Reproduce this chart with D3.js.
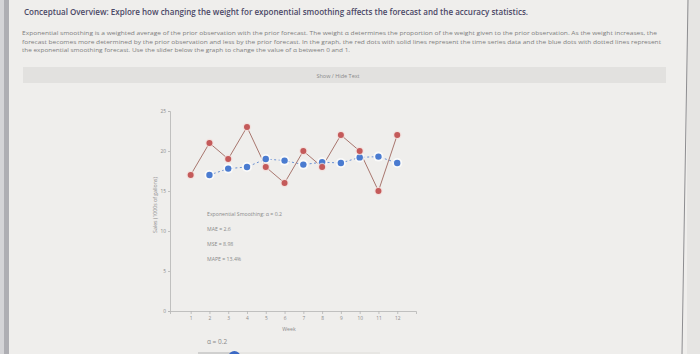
<!DOCTYPE html>
<html lang="en">
<head>
  <meta charset="UTF-8">
  <title>Exponential smoothing</title>
  <script src="https://cdn.jsdelivr.net/npm/d3@7"></script>
  <style>
    body { margin: 0; background: #efeeec; }
    svg { display: block; font-family: "Open Sans", sans-serif; }
  </style>
</head>
<body>
  <svg width="700" height="354"></svg>
  <script>
    // data
    var weeks = [1, 2, 3, 4, 5, 6, 7, 8, 9, 10, 11, 12];
    var sales = [17, 21, 19, 23, 18, 16, 20, 18, 22, 20, 15, 22];
    var forecastWeeks = [2, 3, 4, 5, 6, 7, 8, 9, 10, 11, 12];
    var forecast = [17.0, 17.8, 18.0, 19.0, 18.8, 18.3, 18.6, 18.5, 19.2, 19.3, 18.5];
    var yTicks = [0, 5, 10, 15, 20, 25];
    var stats = ["Exponential Smoothing: \u03b1 = 0.2", "MAE = 2.6", "MSE = 8.98", "MAPE = 13.4%"];
    var alpha = 0.2;

    var svg = d3.select("svg");

    // page frame
    svg.append("rect").attr("x", 0).attr("y", 0).attr("width", 4).attr("height", 354).attr("fill", "#d4d4d7");
    svg.append("rect").attr("x", 4).attr("y", 0).attr("width", 5).attr("height", 354).attr("fill", "#aeaeb3");
    svg.append("rect").attr("x", 687).attr("y", 0).attr("width", 13).attr("height", 354).attr("fill", "#e6e5e3");
    svg.append("line").attr("x1", 688).attr("x2", 682).attr("y1", 0).attr("y2", 354)
      .attr("stroke", "#8d8d90").attr("stroke-width", 1);

    // header text
    svg.append("text").attr("x", 24).attr("y", 15)
      .attr("font-size", 8).attr("font-weight", 600).attr("fill", "#4b4866")
      .attr("textLength", 504).attr("lengthAdjust", "spacingAndGlyphs")
      .text("Conceptual Overview: Explore how changing the weight for exponential smoothing affects the forecast and the accuracy statistics.");

    var para = [
      { t: "Exponential smoothing is a weighted average of the prior observation with the prior forecast. The weight \u03b1 determines the proportion of the weight given to the prior observation. As the weight increases, the", w: 635 },
      { t: "forecast becomes more determined by the prior observation and less by the prior forecast. In the graph, the red dots with solid lines represent the time series data and the blue dots with dotted lines represent", w: 639 },
      { t: "the exponential smoothing forecast. Use the slider below the graph to change the value of \u03b1 between 0 and 1.", w: 328 }
    ];
    svg.selectAll(".para").data(para).enter().append("text")
      .attr("x", 22).attr("y", function (d, i) { return 35 + i * 8.5; })
      .attr("font-size", 5.8).attr("fill", "#7d7d7d")
      .attr("textLength", function (d) { return d.w; }).attr("lengthAdjust", "spacingAndGlyphs")
      .text(function (d) { return d.t; });

    // show / hide bar
    svg.append("rect").attr("x", 23).attr("y", 67).attr("width", 643).attr("height", 16).attr("fill", "#e2e1df");
    svg.append("text").attr("x", 338).attr("y", 77.5).attr("text-anchor", "middle")
      .attr("font-size", 5.5).attr("fill", "#8a8a8a").text("Show / Hide Text");

    // scales
    var x = d3.scaleLinear().domain([-0.1, 13]).range([170, 416]);
    var y = d3.scaleLinear().domain([0, 25]).range([311, 111]);

    var xAxis = svg.append("g").attr("transform", "translate(0," + y(0) + ")")
      .call(d3.axisBottom(x).tickValues(weeks).tickSize(3).tickPadding(3));
    var yAxis = svg.append("g").attr("transform", "translate(" + x(-0.1) + ",0)")
      .call(d3.axisLeft(y).tickValues(yTicks).tickSize(2).tickPadding(2));
    [xAxis, yAxis].forEach(function (a) {
      a.select(".domain").attr("stroke", "#b4b4b4").attr("stroke-width", 0.8);
      a.selectAll(".tick line").attr("stroke", "#b4b4b4").attr("stroke-width", 0.8);
      a.selectAll(".tick text").attr("font-size", 4.8).attr("fill", "#8a8a8a")
        .attr("font-family", "Open Sans, sans-serif");
    });

    svg.append("text").attr("x", 289).attr("y", 331).attr("text-anchor", "middle")
      .attr("font-size", 5.2).attr("fill", "#8a8a8a").text("Week");
    svg.append("text").attr("transform", "translate(157,205) rotate(-90)").attr("text-anchor", "middle")
      .attr("font-size", 5.2).attr("fill", "#8a8a8a").text("Sales (1000s of gallons)");

    // series
    var salesPts = weeks.map(function (w, i) { return [w, sales[i]]; });
    var fcPts = forecastWeeks.map(function (w, i) { return [w, forecast[i]]; });
    var line = d3.line().x(function (d) { return x(d[0]); }).y(function (d) { return y(d[1]); });

    svg.append("path").attr("d", line(fcPts)).attr("fill", "none")
      .attr("stroke", "#5b86cf").attr("stroke-width", 0.9).attr("stroke-dasharray", "2,2.5");
    svg.append("path").attr("d", line(salesPts)).attr("fill", "none")
      .attr("stroke", "#a8766e").attr("stroke-width", 1);

    svg.selectAll(".halo").data(fcPts).enter().append("circle")
      .attr("cx", function (d) { return x(d[0]); }).attr("cy", function (d) { return y(d[1]); })
      .attr("r", 5).attr("fill", "#ffffff").attr("opacity", 0.7);
    svg.selectAll(".fc").data(fcPts).enter().append("circle")
      .attr("cx", function (d) { return x(d[0]); }).attr("cy", function (d) { return y(d[1]); })
      .attr("r", 3.2).attr("fill", "#4a7bd0");

    svg.selectAll(".rhalo").data(salesPts).enter().append("circle")
      .attr("cx", function (d) { return x(d[0]); }).attr("cy", function (d) { return y(d[1]); })
      .attr("r", 4.2).attr("fill", "#f3dcd8").attr("opacity", 0.7);
    svg.selectAll(".sales").data(salesPts).enter().append("circle")
      .attr("cx", function (d) { return x(d[0]); }).attr("cy", function (d) { return y(d[1]); })
      .attr("r", 3).attr("fill", "#c45a5a");

    // accuracy statistics
    svg.selectAll(".stat").data(stats).enter().append("text")
      .attr("x", 207).attr("y", function (d, i) { return 215.5 + i * 15.3; })
      .attr("font-size", 5.2).attr("fill", "#8a8a8a")
      .text(function (d) { return d; });

    // slider
    svg.append("text").attr("x", 217).attr("y", 344).attr("text-anchor", "middle")
      .attr("font-size", 6.5).attr("fill", "#8a8a8a").text("\u03b1 = " + alpha);
    var sx = d3.scaleLinear().domain([0, 1]).range([198, 380]);
    svg.append("line").attr("x1", sx(0)).attr("x2", sx(1)).attr("y1", 353).attr("y2", 353)
      .attr("stroke", "#e4e3e1").attr("stroke-width", 1.5);
    svg.append("line").attr("x1", sx(0)).attr("x2", sx(alpha)).attr("y1", 353).attr("y2", 353)
      .attr("stroke", "#c8c8c8").attr("stroke-width", 1.5);
    svg.append("circle").attr("cx", sx(alpha)).attr("cy", 357).attr("r", 6).attr("fill", "#3a68c4");
  </script>
</body>
</html>
